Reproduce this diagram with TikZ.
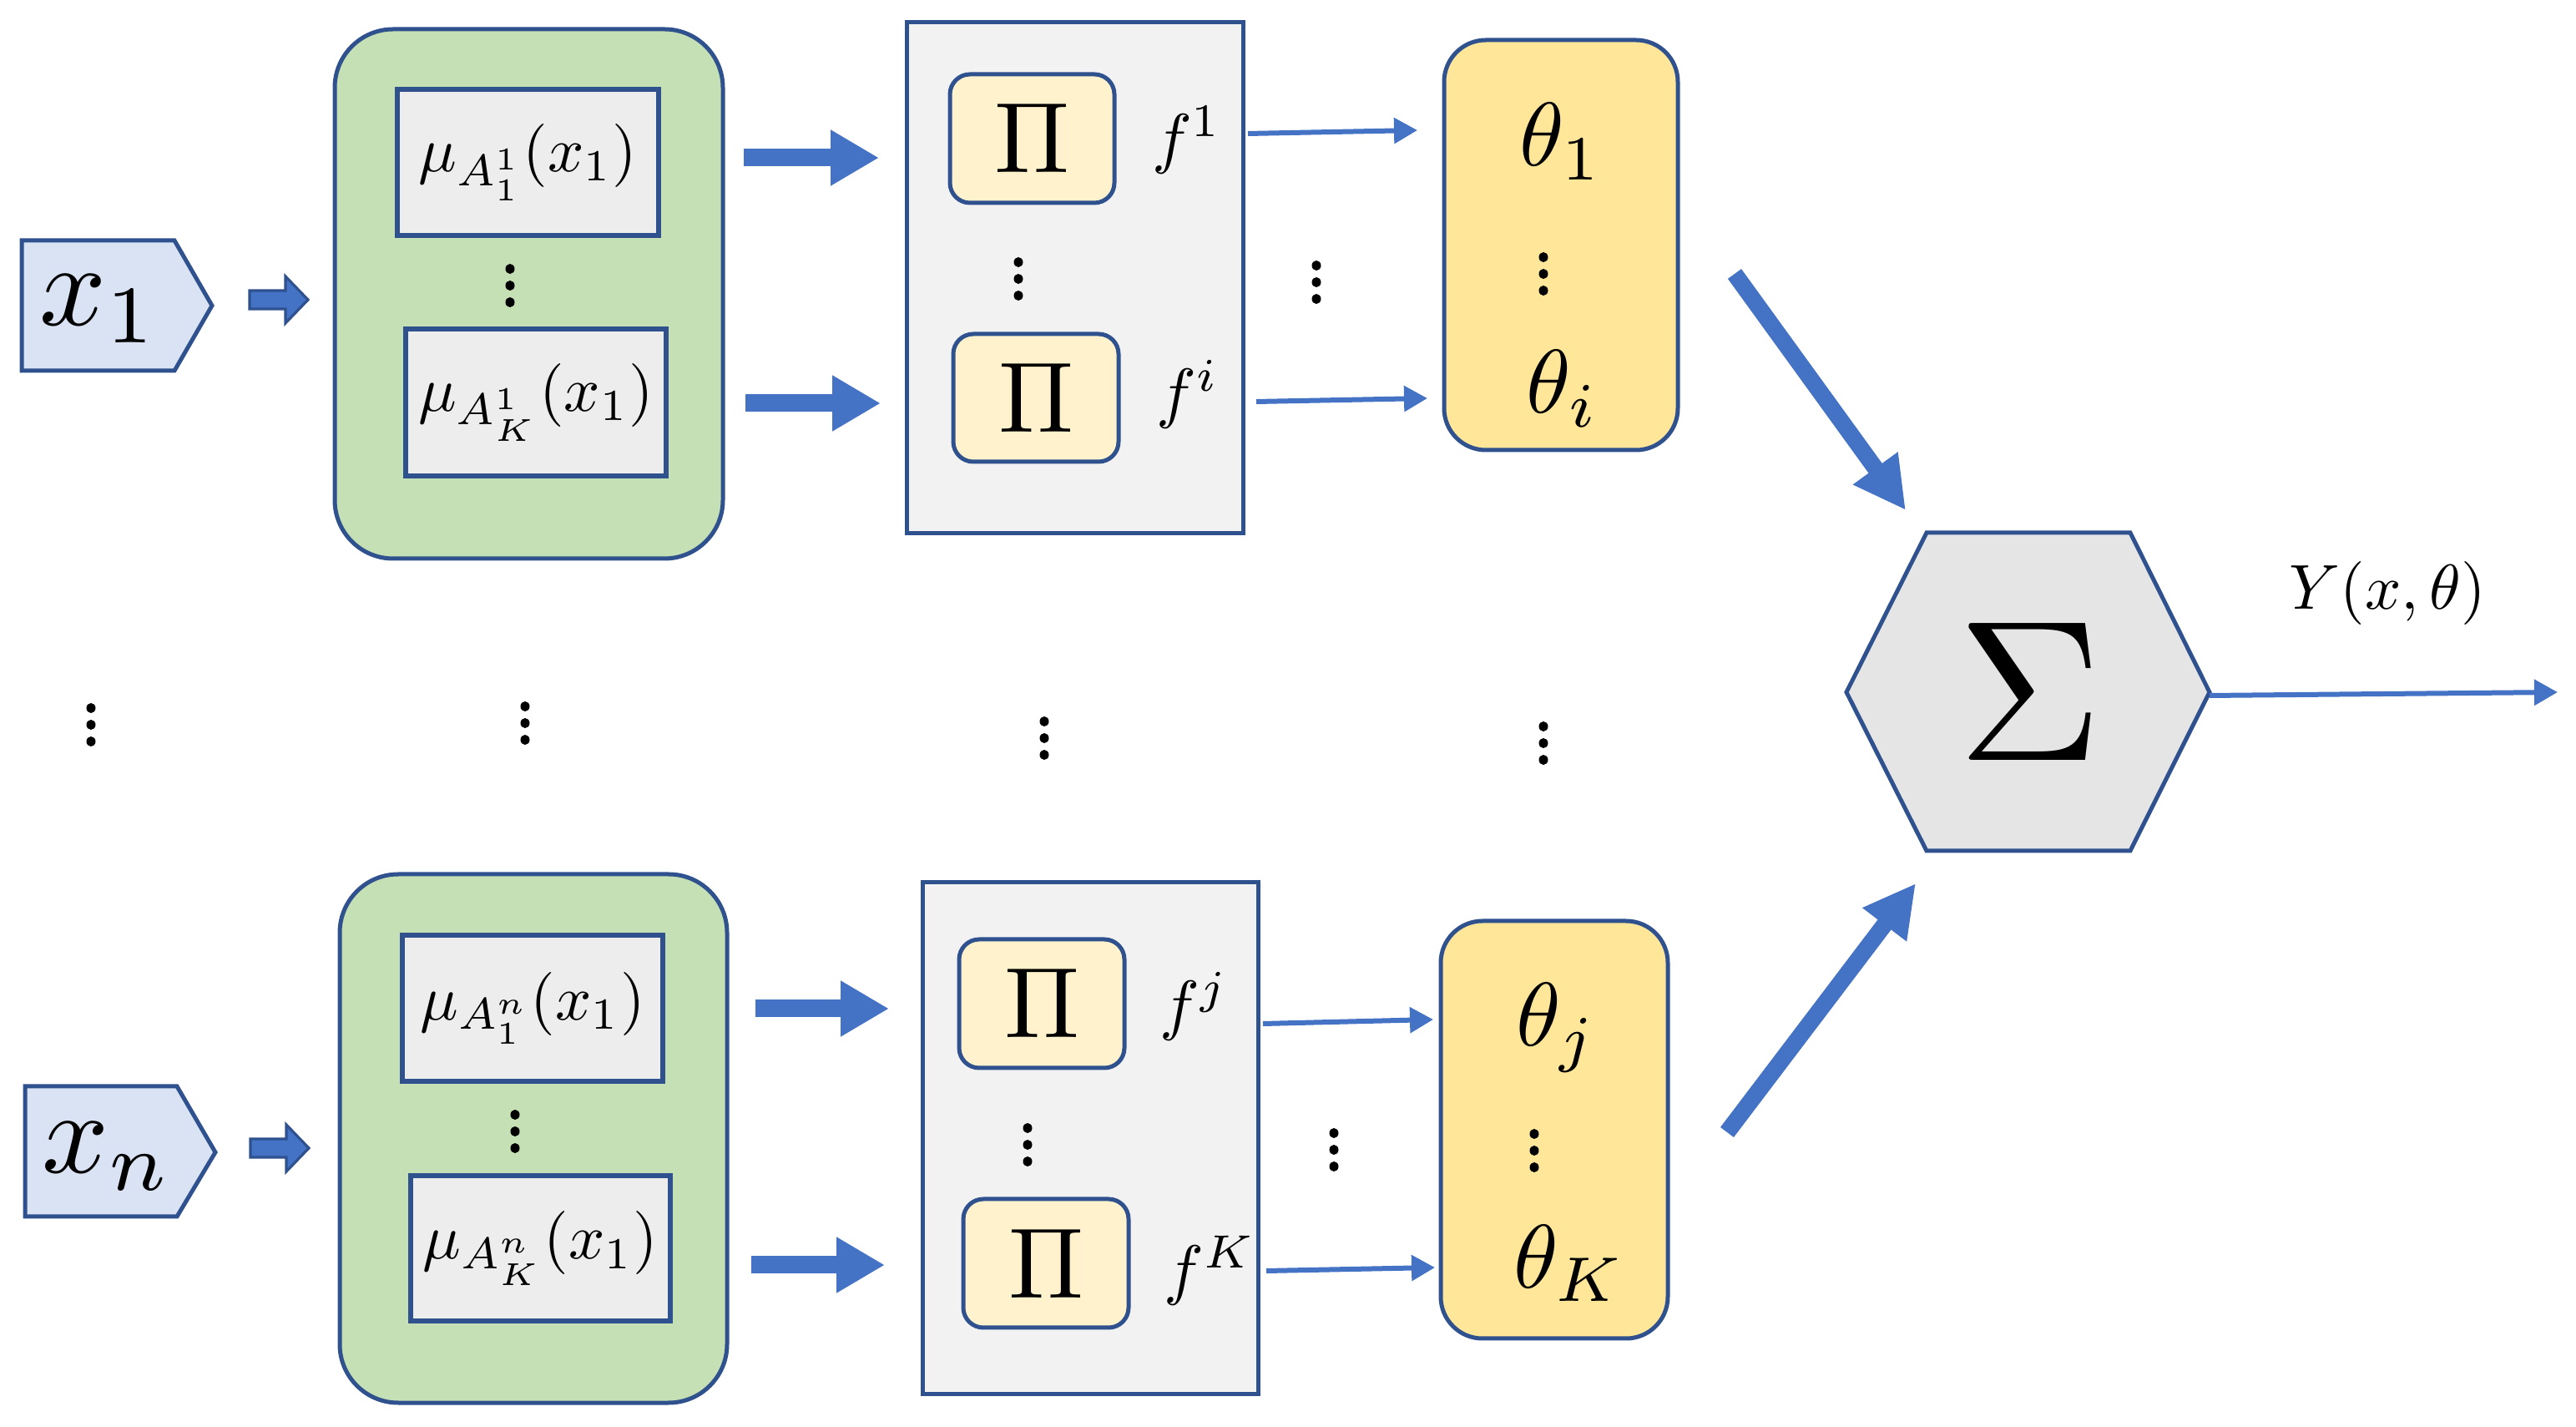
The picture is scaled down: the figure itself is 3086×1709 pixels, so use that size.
\documentclass[tikz,border=0pt]{standalone}
\usetikzlibrary{arrows.meta,calc}
\definecolor{bord}{HTML}{2F528F}
\definecolor{ablue}{HTML}{4472C4}
\definecolor{pentfill}{HTML}{DAE3F3}
\definecolor{greenfill}{HTML}{C5E0B4}
\definecolor{mufill}{HTML}{EDEDED}
\definecolor{greyfill}{HTML}{F2F2F2}
\definecolor{pifill}{HTML}{FFF2CC}
\definecolor{thetafill}{HTML}{FFE699}
\definecolor{hexfill}{HTML}{E5E5E5}
\tikzset{
  pent/.style={draw=bord,fill=pentfill,line width=1.25pt,line join=miter},
  greenbox/.style={draw=bord,fill=greenfill,line width=1.25pt,rounded corners=17.5pt,inner sep=0pt},
  mubox/.style={draw=bord,fill=mufill,line width=1.5pt,inner sep=0pt},
  greybox/.style={draw=bord,fill=greyfill,line width=1.25pt,inner sep=0pt},
  pibox/.style={draw=bord,fill=pifill,line width=1.25pt,rounded corners=6pt,inner sep=0pt},
  thetabox/.style={draw=bord,fill=thetafill,line width=1.25pt,rounded corners=12.5pt,inner sep=0pt},
  hexa/.style={draw=bord,fill=hexfill,line width=1.25pt},
  xlab/.style={inner sep=0pt,anchor=base,scale=3.5},
  mulab/.style={inner sep=0pt,scale=1.9},
  pilab/.style={inner sep=0pt,scale=3},
  flab/.style={inner sep=0pt,anchor=base,scale=2},
  thlab/.style={inner sep=0pt,anchor=base,scale=2.7},
  smallarr/.style={draw=bord,fill=ablue,line width=0.8pt,line join=miter},
  bigarr/.style={draw=ablue,line width=5.25pt,-{Triangle[length=14.5pt,width=15.75pt]}},
  diagarr/.style={draw=ablue,line width=5pt,-{Triangle[length=15.5pt,width=15.5pt]}},
  thinarr/.style={draw=ablue,line width=1.5pt,-{Triangle[length=7pt,width=7.5pt]}},
  dotc/.style={fill=black}
}
\newcommand\vdotsat[1]{\fill[dotc] ($(#1)+(0,-20)$) ellipse (5.5 and 6);
  \fill[dotc] (#1) ellipse (5.5 and 6);
  \fill[dotc] ($(#1)+(0,20)$) ellipse (5.5 and 6);}
\begin{document}
\begin{tikzpicture}[x=0.25pt,y=-0.25pt]
\useasboundingbox (0,0) rectangle (3086,1709);

% ---------------- top row ----------------
\draw[pent] (26,288) -- (209,288) -- (254,366) -- (209,444) -- (26,444) -- cycle;
\node[xlab] (x1) at (119,390) {$x_1$};
\coordinate (a1s) at (299,359);
\draw[smallarr] (a1s) ++(0,-11) -- ++(43,0) -- ++(0,-17) -- ++(27,28) -- ++(-27,28) -- ++(0,-17) -- ++(-43,0) -- cycle;

\node[greenbox,minimum width=116.25pt,minimum height=158.5pt] (g1) at (633.5,352) {};
\node[mubox,minimum width=78.25pt,minimum height=43.75pt] (m11) at (632.5,194.5) {};
\node[mulab] (m11t) at (m11) {$\mu_{A_1^1}(x_1)$};
\node[mubox,minimum width=78pt,minimum height=44pt] (m1k) at (642,482) {};
\node[mulab] (m1kt) at (m1k) {$\mu_{A_K^1}(x_1)$};
\coordinate (dg1) at (611,342);

\node[greybox,minimum width=100.75pt,minimum height=153pt] (r1) at (1287.5,333) {};
\node[pibox,minimum width=49.25pt,minimum height=38.5pt] (p1) at (1236.5,166) {};
\node[pilab] (p1t) at (p1) {$\Pi$};
\node[pibox,minimum width=49.5pt,minimum height=38.25pt] (pi) at (1241,476.5) {};
\node[pilab] (pit) at (pi) {$\Pi$};
\node[flab] (f1) at (1422,193) {$f^1$};
\node[flab] (fi) at (1423,498) {$f^i$};
\coordinate (dr1) at (1220,334);
\coordinate (dm1) at (1577,338);

\node[thetabox,minimum width=70pt,minimum height=122.75pt] (t1) at (1870,293.5) {};
\node[thlab] (th1) at (1870,199) {$\theta_1$};
\node[thlab] (thi) at (1872,495) {$\theta_i$};
\coordinate (dt1) at (1849,328);

\coordinate (b11s) at (891,189);  \coordinate (b11e) at (1053,189);
\coordinate (b1ks) at (893,483);  \coordinate (b1ke) at (1055,483);
\draw[bigarr] (b11s) -- (b11e);
\draw[bigarr] (b1ks) -- (b1ke);
\coordinate (c1s) at (1495,160); \coordinate (c1e) at (1698,156);
\coordinate (cis) at (1505,481); \coordinate (cie) at (1710,477);
\draw[thinarr] (c1s) -- (c1e);
\draw[thinarr] (cis) -- (cie);

% ---------------- bottom row ----------------
\draw[pent] (30,1301) -- (212,1301) -- (258,1380) -- (212,1457) -- (30,1457) -- cycle;
\node[xlab] (xn) at (129,1405) {$x_n$};
\coordinate (ans) at (300,1375);
\draw[smallarr] (ans) ++(0,-11) -- ++(43,0) -- ++(0,-17) -- ++(27,28) -- ++(-27,28) -- ++(0,-17) -- ++(-43,0) -- cycle;

\node[greenbox,minimum width=116pt,minimum height=158.25pt] (gn) at (639,1363.5) {};
\node[mubox,minimum width=78pt,minimum height=43.75pt] (mn1) at (638,1207.5) {};
\node[mulab] (mn1t) at (mn1) {$\mu_{A_1^n}(x_1)$};
\node[mubox,minimum width=77.75pt,minimum height=43.5pt] (mnk) at (647.5,1495) {};
\node[mulab] (mnkt) at (mnk) {$\mu_{A_K^n}(x_1)$};
\coordinate (dgn) at (617,1355);

\node[greybox,minimum width=100.5pt,minimum height=153pt] (rn) at (1306,1363) {};
\node[pibox,minimum width=49.5pt,minimum height=38.5pt] (pj) at (1248,1202) {};
\node[pilab] (pjt) at (pj) {$\Pi$};
\node[pibox,minimum width=49.5pt,minimum height=38.5pt] (pk) at (1253,1513) {};
\node[pilab] (pkt) at (pk) {$\Pi$};
\node[flab] (fj) at (1430,1231) {$f^j$};
\node[flab] (fk) at (1449,1548) {$f^K$};
\coordinate (drn) at (1231,1371);
\coordinate (dmn) at (1598,1377);

\node[thetabox,minimum width=68pt,minimum height=125pt] (tn) at (1862,1353) {};
\node[thlab] (thj) at (1865,1253) {$\theta_j$};
\node[thlab] (thk) at (1880,1542) {$\theta_K$};
\coordinate (dtn) at (1838,1378);

\coordinate (bn1s) at (905,1208);  \coordinate (bn1e) at (1065,1208);
\coordinate (bnks) at (900,1515);  \coordinate (bnke) at (1060,1515);
\draw[bigarr] (bn1s) -- (bn1e);
\draw[bigarr] (bnks) -- (bnke);
\coordinate (cjs) at (1513,1226); \coordinate (cje) at (1717,1221);
\coordinate (cks) at (1517,1522); \coordinate (cke) at (1719,1518);
\draw[thinarr] (cjs) -- (cje);
\draw[thinarr] (cks) -- (cke);

% ---------------- middle row dots ----------------
\coordinate (r0) at (109,868);
\coordinate (r1d) at (629,866);
\coordinate (r2d) at (1251,884);
\coordinate (r3d) at (1849,890);

\vdotsat{dg1}\vdotsat{dr1}\vdotsat{dm1}\vdotsat{dt1}
\vdotsat{dgn}\vdotsat{drn}\vdotsat{dmn}\vdotsat{dtn}
\vdotsat{r0}\vdotsat{r1d}\vdotsat{r2d}\vdotsat{r3d}

% ---------------- sum ----------------
\draw[hexa] (2212,829) -- (2308,638) -- (2552,638) -- (2647,829) -- (2552,1019) -- (2308,1019) -- cycle;
\node[inner sep=0pt,scale=6] (sum) at (2432,829) {$\Sigma$};
\coordinate (hexr) at (2647,833);
\coordinate (outp) at (3064,829);
\draw[thinarr] (hexr) -- (outp);
\node[inner sep=0pt,anchor=base,scale=1.9] (ylab) at (2860,730) {$Y(x,\theta)$};

\coordinate (d1s) at (2078,328); \coordinate (d1e) at (2283,611);
\coordinate (d2s) at (2069,1356); \coordinate (d2e) at (2295,1058);
\draw[diagarr] (d1s) -- (d1e);
\draw[diagarr] (d2s) -- (d2e);
\end{tikzpicture}
\end{document}
